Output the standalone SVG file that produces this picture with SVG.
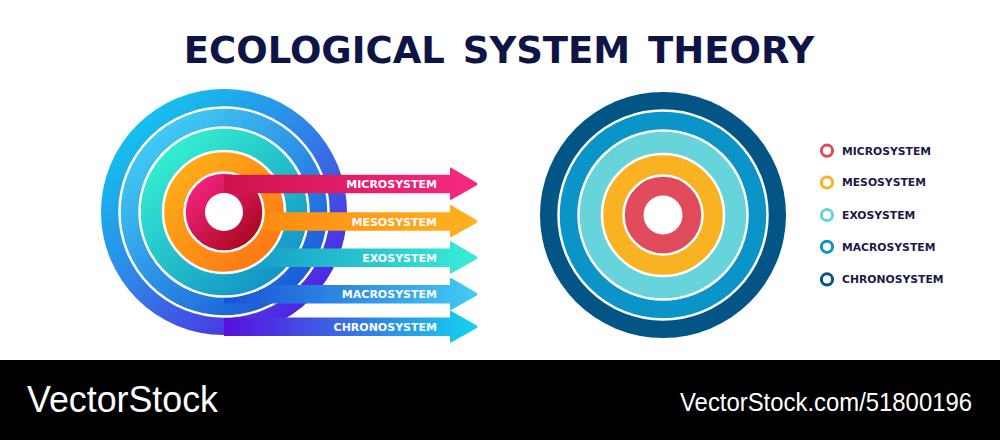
<svg xmlns="http://www.w3.org/2000/svg" width="1000" height="440" viewBox="0 0 1000 440">
<defs>
<style>
.sep{stroke:#fff;stroke-width:2.5}
.lbl{font-family:"DejaVu Sans",sans-serif;font-weight:bold;font-size:11px;fill:#fff;text-anchor:end}
.leg{font-family:"DejaVu Sans",sans-serif;font-weight:bold;font-size:10.8px;fill:#1b1a4a}
.legc{fill:none;stroke-width:3}
.title{font-family:"DejaVu Sans",sans-serif;font-weight:bold;font-size:37px;word-spacing:5px;fill:#0e1445;text-anchor:middle}
.wm{font-family:"Liberation Sans",Arial,sans-serif;fill:#fff}
</style>
<linearGradient id="gChrono" gradientUnits="userSpaceOnUse" x1="130" y1="105" x2="320" y2="325">
<stop offset="0" stop-color="#10caee"/><stop offset="0.45" stop-color="#2e86e8"/><stop offset="1" stop-color="#5810e0"/></linearGradient>
<linearGradient id="gMacro" gradientUnits="userSpaceOnUse" x1="150" y1="130" x2="300" y2="300">
<stop offset="0" stop-color="#42cef4"/><stop offset="1" stop-color="#1854d6"/></linearGradient>
<linearGradient id="gExo" gradientUnits="userSpaceOnUse" x1="170" y1="150" x2="285" y2="285">
<stop offset="0" stop-color="#34ecd0"/><stop offset="1" stop-color="#118ec4"/></linearGradient>
<linearGradient id="gMeso" gradientUnits="userSpaceOnUse" x1="180" y1="170" x2="270" y2="260">
<stop offset="0" stop-color="#ffac18"/><stop offset="1" stop-color="#ff7614"/></linearGradient>
<linearGradient id="gMicro" gradientUnits="userSpaceOnUse" x1="195" y1="185" x2="255" y2="245">
<stop offset="0" stop-color="#f2227f"/><stop offset="1" stop-color="#a6061a"/></linearGradient>
<linearGradient id="bMicro" gradientUnits="userSpaceOnUse" x1="224" y1="0" x2="478" y2="0">
<stop offset="0" stop-color="#d0124e"/><stop offset="1" stop-color="#f42a82"/></linearGradient>
<linearGradient id="bMeso" gradientUnits="userSpaceOnUse" x1="224" y1="0" x2="478" y2="0">
<stop offset="0" stop-color="#ff8410"/><stop offset="1" stop-color="#ffb21e"/></linearGradient>
<linearGradient id="bExo" gradientUnits="userSpaceOnUse" x1="224" y1="0" x2="478" y2="0">
<stop offset="0" stop-color="#1494c6"/><stop offset="1" stop-color="#38eed6"/></linearGradient>
<linearGradient id="bMacro" gradientUnits="userSpaceOnUse" x1="224" y1="0" x2="478" y2="0">
<stop offset="0" stop-color="#1a50d6"/><stop offset="1" stop-color="#42ccf4"/></linearGradient>
<linearGradient id="bChrono" gradientUnits="userSpaceOnUse" x1="224" y1="0" x2="478" y2="0">
<stop offset="0" stop-color="#5a0ede"/><stop offset="1" stop-color="#12d6ee"/></linearGradient>
</defs>

<rect width="1000" height="440" fill="#fff"/>
<text class="title" x="499" y="63">ECOLOGICAL SYSTEM THEORY</text>

<g id="left-target">
  <circle cx="224" cy="212" r="123" fill="url(#gChrono)"/>
  <g id="arrow-chrono">
    <rect x="224" y="317.5" width="228" height="18.5" fill="url(#bChrono)"/>
    <path d="M450,312 Q450,310 452,311.5 L476,325 Q479,326.75 476,328.5 L452,342 Q450,343.5 450,341.5 Z" fill="url(#bChrono)"/>
    <text class="lbl" x="437" y="330.5">CHRONOSYSTEM</text>
  </g>
  <circle class="sep" cx="224" cy="212" r="104.5" fill="url(#gMacro)"/>
  <g id="arrow-macro">
    <rect x="224" y="285" width="228" height="18.5" fill="url(#bMacro)"/>
    <path d="M450,279 Q450,277 452,278.5 L476,292.5 Q479,294.25 476,296 L452,309.5 Q450,311 450,309 Z" fill="url(#bMacro)"/>
    <text class="lbl" x="437" y="298">MACROSYSTEM</text>
  </g>
  <circle class="sep" cx="224" cy="212" r="84.5" fill="url(#gExo)"/>
  <g id="arrow-exo">
    <rect x="224" y="248.5" width="228" height="18.5" fill="url(#bExo)"/>
    <path d="M450,242.5 Q450,240.5 452,242 L476,256 Q479,257.75 476,259.5 L452,273 Q450,274.5 450,272.5 Z" fill="url(#bExo)"/>
    <text class="lbl" x="437" y="261.5">EXOSYSTEM</text>
  </g>
  <circle class="sep" cx="224" cy="212" r="61" fill="url(#gMeso)"/>
  <g id="arrow-meso">
    <rect x="224" y="212.25" width="228" height="18.5" fill="url(#bMeso)"/>
    <path d="M450,206.25 Q450,204.25 452,205.75 L476,219.75 Q479,221.5 476,223.25 L452,236.75 Q450,238.25 450,236.25 Z" fill="url(#bMeso)"/>
    <text class="lbl" x="437" y="225.5">MESOSYSTEM</text>
  </g>
  <circle class="sep" cx="224" cy="212" r="39.5" fill="url(#gMicro)"/>
  <g id="arrow-micro">
    <rect x="224" y="174.75" width="228" height="18.5" fill="url(#bMicro)"/>
    <path d="M450,168.75 Q450,166.75 452,168.25 L476,182.25 Q479,184 476,185.75 L452,199.25 Q450,200.75 450,198.75 Z" fill="url(#bMicro)"/>
    <text class="lbl" x="437" y="188">MICROSYSTEM</text>
  </g>
  <circle cx="224" cy="212" r="19" fill="#fff"/>
</g>

<g id="right-target">
  <circle cx="663" cy="215" r="123" fill="#035586"/>
  <circle class="sep" cx="663" cy="215" r="104.5" fill="#0a94c8"/>
  <circle class="sep" cx="663" cy="215" r="84.5" fill="#66d4da"/>
  <circle class="sep" cx="663" cy="215" r="61" fill="#f8b222"/>
  <circle class="sep" cx="663" cy="215" r="39.5" fill="#e04a5a"/>
  <circle cx="663" cy="215" r="19.5" fill="#fff"/>
</g>

<g id="legend">
  <g id="leg-micro"><circle class="legc" cx="827" cy="150.7" r="5.6" stroke="#e04a5a"/><text class="leg" x="842" y="154.5">MICROSYSTEM</text></g>
  <g id="leg-meso"><circle class="legc" cx="827" cy="182.5" r="5.6" stroke="#f8b222"/><text class="leg" x="842" y="186.3">MESOSYSTEM</text></g>
  <g id="leg-exo"><circle class="legc" cx="827" cy="215" r="5.6" stroke="#66d4da"/><text class="leg" x="842" y="218.8">EXOSYSTEM</text></g>
  <g id="leg-macro"><circle class="legc" cx="827" cy="246.8" r="5.6" stroke="#0a94c8"/><text class="leg" x="842" y="250.6">MACROSYSTEM</text></g>
  <g id="leg-chrono"><circle class="legc" cx="827" cy="279.4" r="5.6" stroke="#035586"/><text class="leg" x="842" y="283.2">CHRONOSYSTEM</text></g>
</g>

<g id="footer">
  <rect x="0" y="360" width="1000" height="80" fill="#000"/>
  <text class="wm" x="27" y="412" font-size="37" textLength="191" lengthAdjust="spacingAndGlyphs">VectorStock</text>
  <text class="wm" x="680" y="411" font-size="26" textLength="292" lengthAdjust="spacingAndGlyphs">VectorStock.com/51800196</text>
</g>
</svg>
